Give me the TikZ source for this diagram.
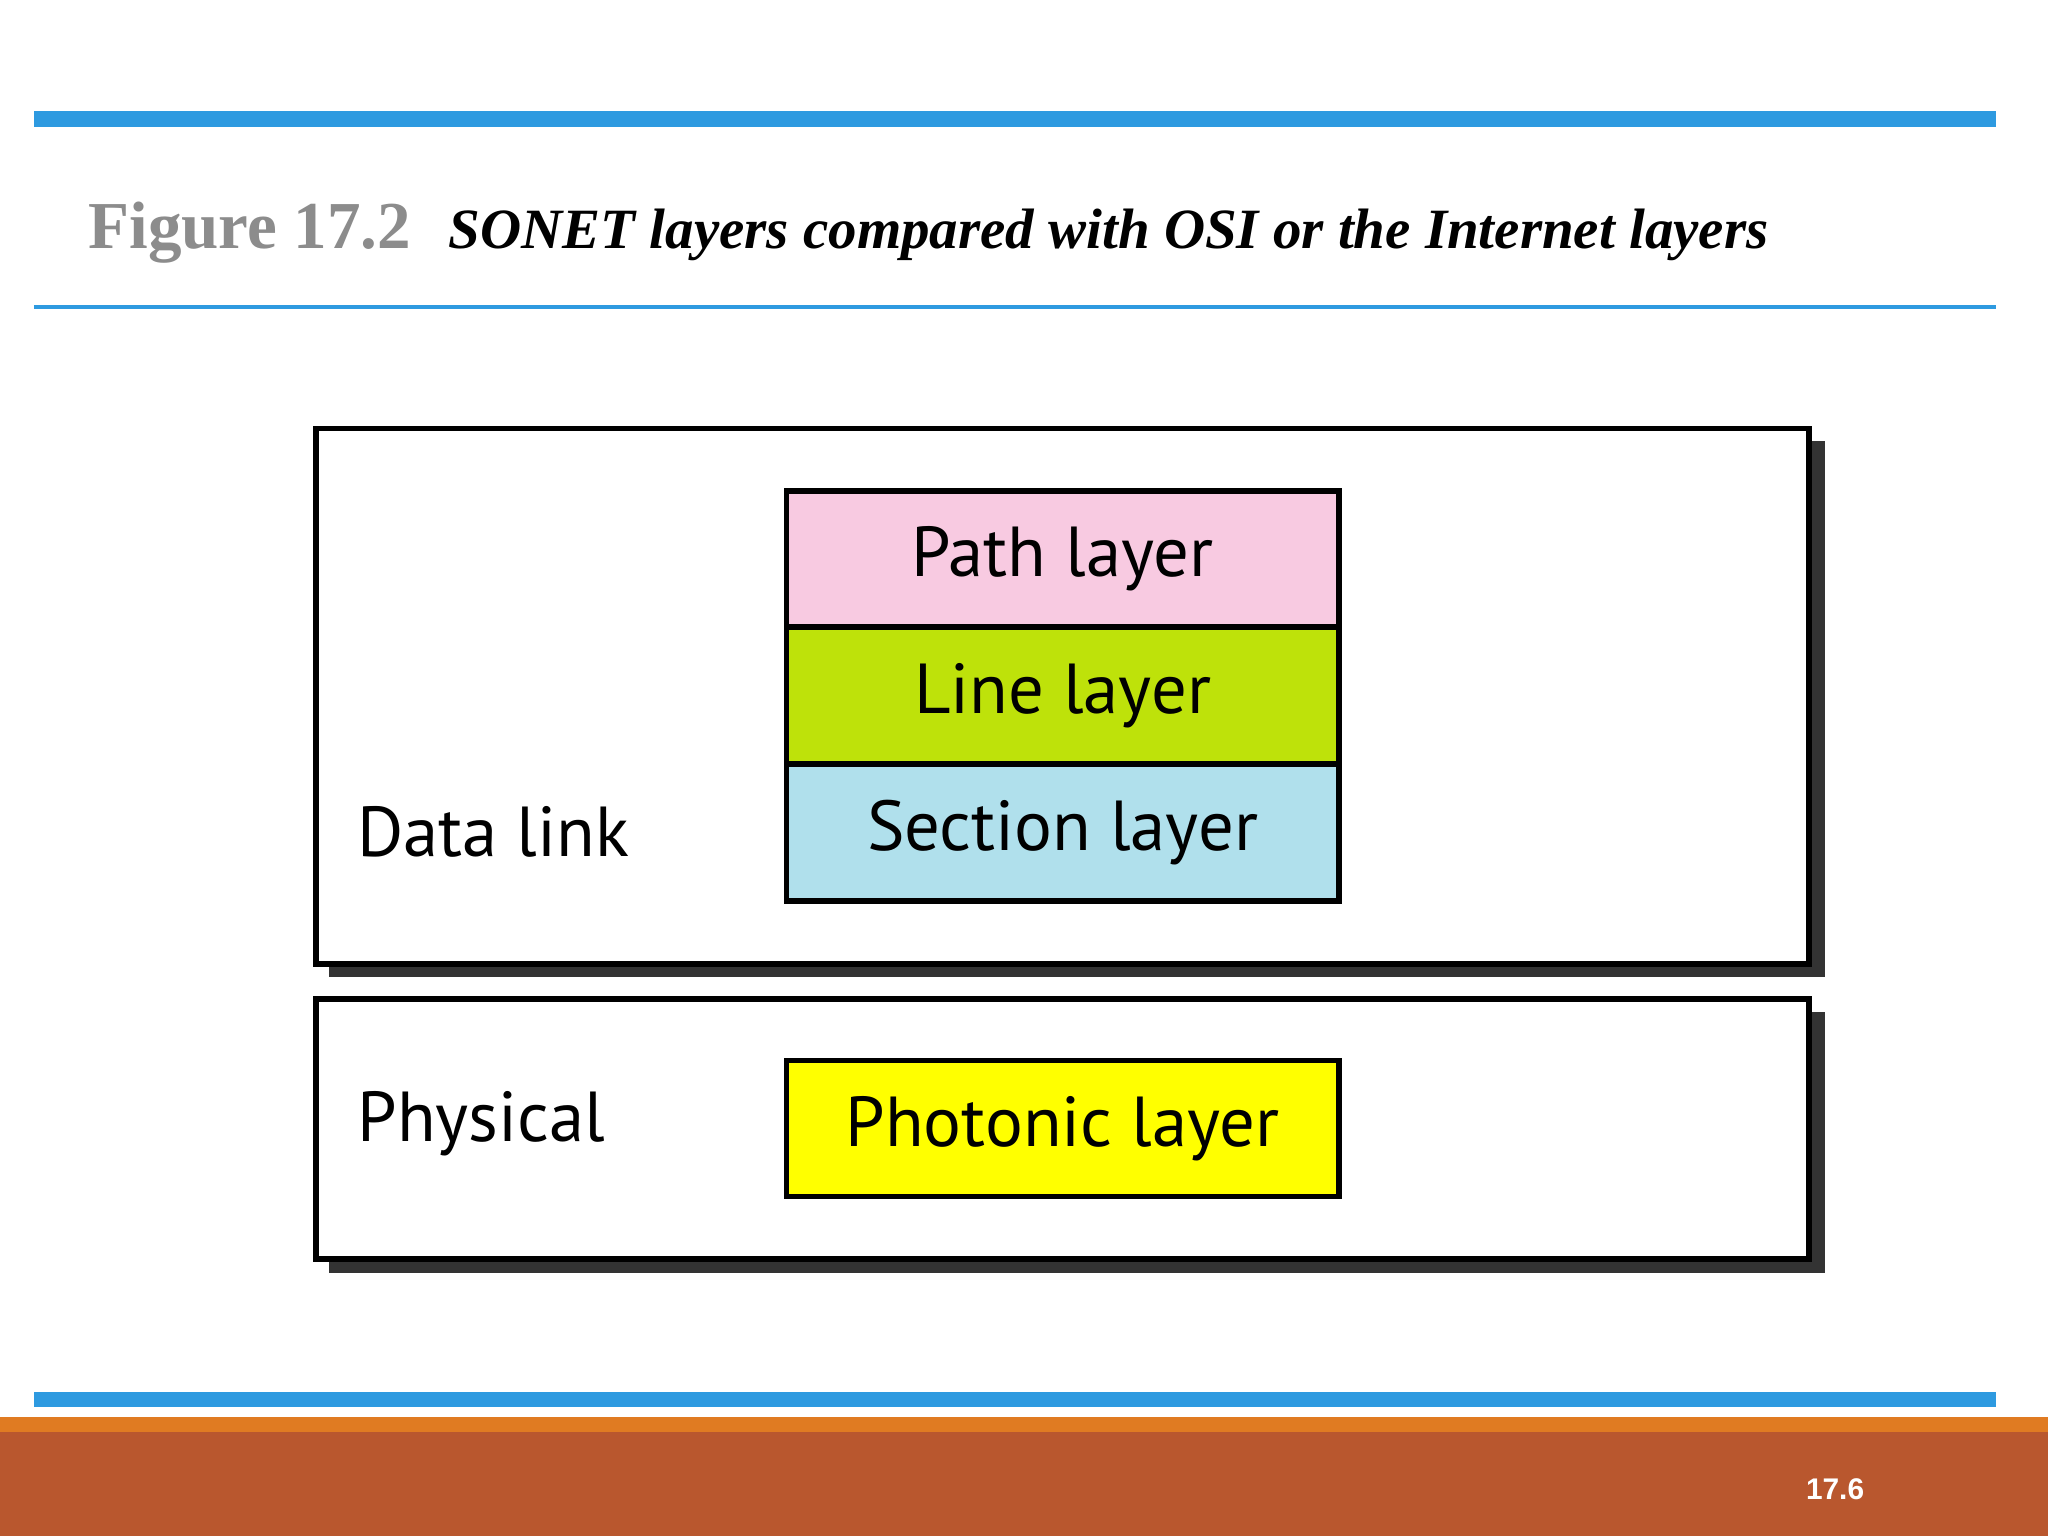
\documentclass[tikz,border=0pt]{standalone}
\usepackage{fontspec}
\setmainfont{Liberation Serif}
\newfontfamily\lay{PT Sans}
\newfontfamily\arl{Liberation Sans}
\definecolor{bblue}{HTML}{2E9AE0}
\definecolor{pinkc}{HTML}{F8CAE1}
\definecolor{linec}{HTML}{BEE20A}
\definecolor{secc}{HTML}{B0E0EC}
\definecolor{photc}{HTML}{FFFF00}
\definecolor{orng}{HTML}{E07B22}
\definecolor{brwn}{HTML}{B9572E}
\begin{document}
\begin{tikzpicture}[x=0.01cm,y=-0.01cm,
  outer/.style={draw=black,line width=1.2pt,fill=white},
  shadow/.style={fill=black!80},
  layer/.style={draw=black,line width=1.2pt},
  ltext/.style={font=\lay\fontsize{15.4}{18}\selectfont},
  side/.style={font=\lay\fontsize{15.4}{18}\selectfont,anchor=west,inner sep=0}]
\useasboundingbox (0,0) rectangle (1568,1176);
\fill[white] (0,0) rectangle (1568,1176);
\fill[bblue] (26,85) rectangle (1528,97);
\draw[bblue,line width=0.9pt] (26,235) -- (1528,235);
\node[anchor=base west,text=black!45,font=\bfseries\fontsize{14.6}{17}\selectfont,inner sep=0] (fig) at (67,190) {Figure 17.2};
\node[anchor=base west,font=\bfseries\itshape\fontsize{12.4}{15}\selectfont,inner sep=0] (cap) at (343,190) {SONET layers compared with OSI or the Internet layers};
% box 1
\fill[shadow] (252,338) rectangle (1397,748);
\draw[outer] (242,328) rectangle (1385,738);
\draw[layer,fill=pinkc] (602,376) rectangle node[ltext] (path) {Path layer} (1025,480);
\draw[layer,fill=linec] (602,480) rectangle node[ltext] (line) {Line layer} (1025,585);
\draw[layer,fill=secc] (602,585) rectangle node[ltext] (sec) {Section layer} (1025,690);
\node[side] (dl) at (273,637) {Data link};
% box 2
\fill[shadow] (252,775) rectangle (1397,975);
\draw[outer] (242,765) rectangle (1385,964);
\draw[layer,fill=photc] (602,812) rectangle node[ltext] (phot) {Photonic layer} (1025,916);
\node[side] (ph) at (273,860) {Physical};
% footer
\fill[bblue] (26,1066) rectangle (1528,1077);
\fill[orng] (0,1085) rectangle (1568,1096);
\fill[brwn] (0,1096) rectangle (1568,1176);
\node[text=white,font=\arl\bfseries\fontsize{6.5}{8}\selectfont] (pg) at (1405,1140) {17.6};
\end{tikzpicture}
\end{document}
